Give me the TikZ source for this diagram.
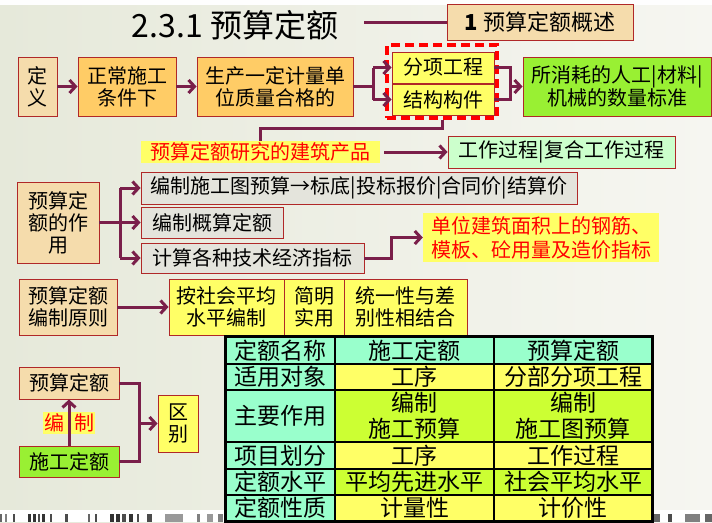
\documentclass[tikz,border=0pt]{standalone}
\usepackage{fontspec}
\setmainfont{Noto Sans CJK SC}
\usetikzlibrary{arrows.meta}
\definecolor{bgL}{HTML}{E6E9DA}
\definecolor{bgR}{HTML}{F6F6F1}
\definecolor{tanc}{HTML}{F5DCAC}
\definecolor{orangec}{HTML}{FFCC66}
\definecolor{yellowc}{HTML}{FFFF66}
\definecolor{greenc}{HTML}{99F033}
\definecolor{lgreenc}{HTML}{CCFFCC}
\definecolor{greyc}{HTML}{E4E4DC}
\definecolor{borderc}{HTML}{B02828}
\definecolor{arrowc}{HTML}{7A1F4A}
\definecolor{aquac}{HTML}{99FFCC}
\definecolor{ygreenc}{HTML}{CCFF33}
\definecolor{redtext}{HTML}{FF0000}
\tikzset{
  wh/.style 2 args={minimum width=#1pt, minimum height=#2pt},
  boxc/.style={draw=borderc, line width=0.9pt, inner sep=0pt, align=center,
    font=\fontsize{20}{22}\selectfont},
  tanbox/.style={boxc, fill=tanc},
  orbox/.style={boxc, fill=orangec},
  yebox/.style={boxc, fill=yellowc},
  grbox/.style={boxc, fill=greenc},
  lgbox/.style={boxc, fill=lgreenc},
  gybox/.style={boxc, fill=greyc},
  redlbl/.style={fill=yellowc, inner sep=0pt, align=center, text=redtext,
    font=\fontsize{20}{24}\selectfont},
  ln/.style={draw=arrowc, line width=3pt},
  arr/.style={ln, -{Straight Barb[length=6pt,width=13pt]}},
  cell/.style={draw=black, line width=1.2pt, inner sep=0pt, align=center,
    font=\fontsize{23}{26}\selectfont},
}
\begin{document}
\begin{tikzpicture}[x=1pt,y=-1pt]
\useasboundingbox (0,0) rectangle (712,522);
\shade[left color=bgL, right color=bgR] (0,0) rectangle (712,522);
\fill[white!90!bgR] (0,0) rectangle (712,5);
\fill[white] (0,510) rectangle (712,522);
\foreach \a/\b/\c in {0/1.5/black!60, 5/6.5/black!50, 13/15/black!70, 28/31/black!80, 33/36/black!80, 38/40/black!70, 42/45/black!80,
  50/51.5/black!70, 65/68/black!70, 88/90/black!60, 95/96.5/black!70, 110/114/black!80, 116/120/black!80, 122/126/black!70, 129/133/black!80,
  137/138.5/black!70, 147/152/black!70, 165/183/black!40, 197/200/black!50, 207/213/black!40, 218/223/black!50,
  652/660/black!60, 668/672/black!70, 685/700/black!50, 705/712/black!60}
  \fill[\c] (\a,514) rectangle (\b,522);

% title
\node[font=\fontsize{32}{34}\selectfont, inner sep=0pt] (title) at (235,25) {2.3.1 预算定额};
\node[tanbox, wh={186}{36}, font=\fontsize{22}{24}\selectfont] (ov) at (540,22) {\textbf{1} 预算定额概述};
\draw[ln, shorten <=26pt] (title.east |- ov.west) -- (ov.west);

% definition row
\node[tanbox, wh={39}{59}] (def) at (37.5,86.5) {定\\义};
\node[orbox, wh={98}{59}] (cond) at (127,86.5) {正常施工\\条件下};
\node[orbox, wh={156}{59}] (prod) at (275,86.5) {生产一定计量单\\位质量合格的};
\node[draw=red, dash pattern=on 9pt off 5pt, line width=3.5pt, wh={110}{73}, inner sep=0pt] (dbox) at (442,81.5) {};
\node[yebox, wh={102}{31}] (fx) at (443,67.5) {分项工程};
\node[yebox, wh={102}{31}] (jg) at (443,99.5) {结构构件};
\node[grbox, wh={188}{59}] (res) at (617,86.5) {所消耗的人工|材料|\\机械的数量标准};

\draw[arr] (def.east) -- (cond.west);
\draw[arr] (cond.east) -- (prod.west);
\coordinate (s1) at (373,86.5);
\draw[ln] (prod.east) -- (s1);
\draw[ln] (s1 |- fx.west) -- (s1 |- jg.west);
\draw[arr] (s1 |- fx.west) -- (fx.west);
\draw[arr] (s1 |- jg.west) -- (jg.west);
\coordinate (s2) at (510,86.5);
\draw[ln] (fx.east) -| (s2 |- jg.east) -- (jg.east);
\draw[arr] (s2) -- (res.west);

% product label
\node[redlbl, wh={239}{22}] (plbl) at (260.5,152) {预算定额研究的建筑产品};
\node[lgbox, wh={227}{32}] (proc) at (561.5,152) {工作过程|复合工作过程};
\draw[ln] (dbox.south) -- ++(0,9) -| (plbl.north);
\draw[arr, shorten <=4pt] (plbl.east) -- (proc.west);

% role section
\node[tanbox, wh={82}{81}] (zy) at (58,222.5) {预算定\\额的作\\用};
\node[gybox, wh={436}{32}] (b1) at (359,188) {编制施工图预算→标底|投标报价|合同价|结算价};
\node[gybox, wh={142}{31}] (b2) at (212,222.5) {编制概算定额};
\node[gybox, wh={223}{30}] (b3) at (252.5,258) {计算各种技术经济指标};
\node[redlbl, wh={236}{49}] (idx) at (541,237.5) {单位建筑面积上的钢筋、\\模板、砼用量及造价指标};
\coordinate (s3) at (120,222.5);
\draw[ln] (zy.east) -- (s3);
\draw[ln] (s3 |- b1.west) -- (s3 |- b3.west);
\draw[arr] (s3 |- b1.west) -- (b1.west);
\draw[arr] (s3) -- (b2.west);
\draw[arr] (s3 |- b3.west) -- (b3.west);
\draw[arr] (b3.east) -- ++(27,0) |- (idx.west);

% principle section
\node[tanbox, wh={98}{56}] (yz) at (68,307) {预算定额\\编制原则};
\node[yebox, wh={115}{56}] (p1) at (226.5,307) {按社会平均\\水平编制};
\node[yebox, wh={60}{56}] (p2) at (314,307) {简明\\实用};
\node[yebox, wh={123}{56}] (p3) at (405.5,307) {统一性与差\\别性相结合};
\draw[arr] (yz.east) -- (p1.west);

% table
\node[cell, fill=aquac, wh={109}{27}] (t11) at (280.5,350.5) {定额名称};
\node[cell, fill=aquac, wh={159}{27}] (t12) at (414.5,350.5) {施工定额};
\node[cell, fill=aquac, wh={158}{27}] (t13) at (573,350.5) {预算定额};
\node[cell, fill=aquac, wh={109}{26}] (t21) at (280.5,377) {适用对象};
\node[cell, fill=yellowc, wh={159}{26}] (t22) at (414.5,377) {工序};
\node[cell, fill=yellowc, wh={158}{26}] (t23) at (573,377) {分部分项工程};
\node[cell, fill=aquac, wh={109}{52}] (t31) at (280.5,416) {主要作用};
\node[cell, fill=ygreenc, wh={159}{52}] (t32) at (414.5,416) {编制\\施工预算};
\node[cell, fill=ygreenc, wh={158}{52}] (t33) at (573,416) {编制\\施工图预算};
\node[cell, fill=aquac, wh={109}{27}] (t41) at (280.5,455.5) {项目划分};
\node[cell, fill=yellowc, wh={159}{27}] (t42) at (414.5,455.5) {工序};
\node[cell, fill=yellowc, wh={158}{27}] (t43) at (573,455.5) {工作过程};
\node[cell, fill=aquac, wh={109}{26}] (t51) at (280.5,482) {定额水平};
\node[cell, fill=ygreenc, wh={159}{26}] (t52) at (414.5,482) {平均先进水平};
\node[cell, fill=ygreenc, wh={158}{26}] (t53) at (573,482) {社会平均水平};
\node[cell, fill=aquac, wh={109}{26}] (t61) at (280.5,508) {定额性质};
\node[cell, fill=yellowc, wh={159}{26}] (t62) at (414.5,508) {计量性};
\node[cell, fill=yellowc, wh={158}{26}] (t63) at (573,508) {计价性};
\draw[black, line width=2pt] (t11.north west) rectangle (t63.south east);

% bottom-left
\node[tanbox, wh={100}{32}] (ys) at (69,383) {预算定额};
\node[grbox, wh={100}{31}] (sg) at (69,461.5) {施工定额};
\node[redlbl, wh={52}{22}] (bz) at (69,423) {编\hspace{10pt}制};
\draw[arr] (sg.north) -- (ys.south);
\node[yebox, wh={40}{57}] (qb) at (178,423.5) {区\\别};
\coordinate (s4) at (139,423.5);
\draw[ln] (ys.east) -| (s4 |- sg.east) -- (sg.east);
\draw[arr] (s4) -- (qb.west);
\end{tikzpicture}
\end{document}
